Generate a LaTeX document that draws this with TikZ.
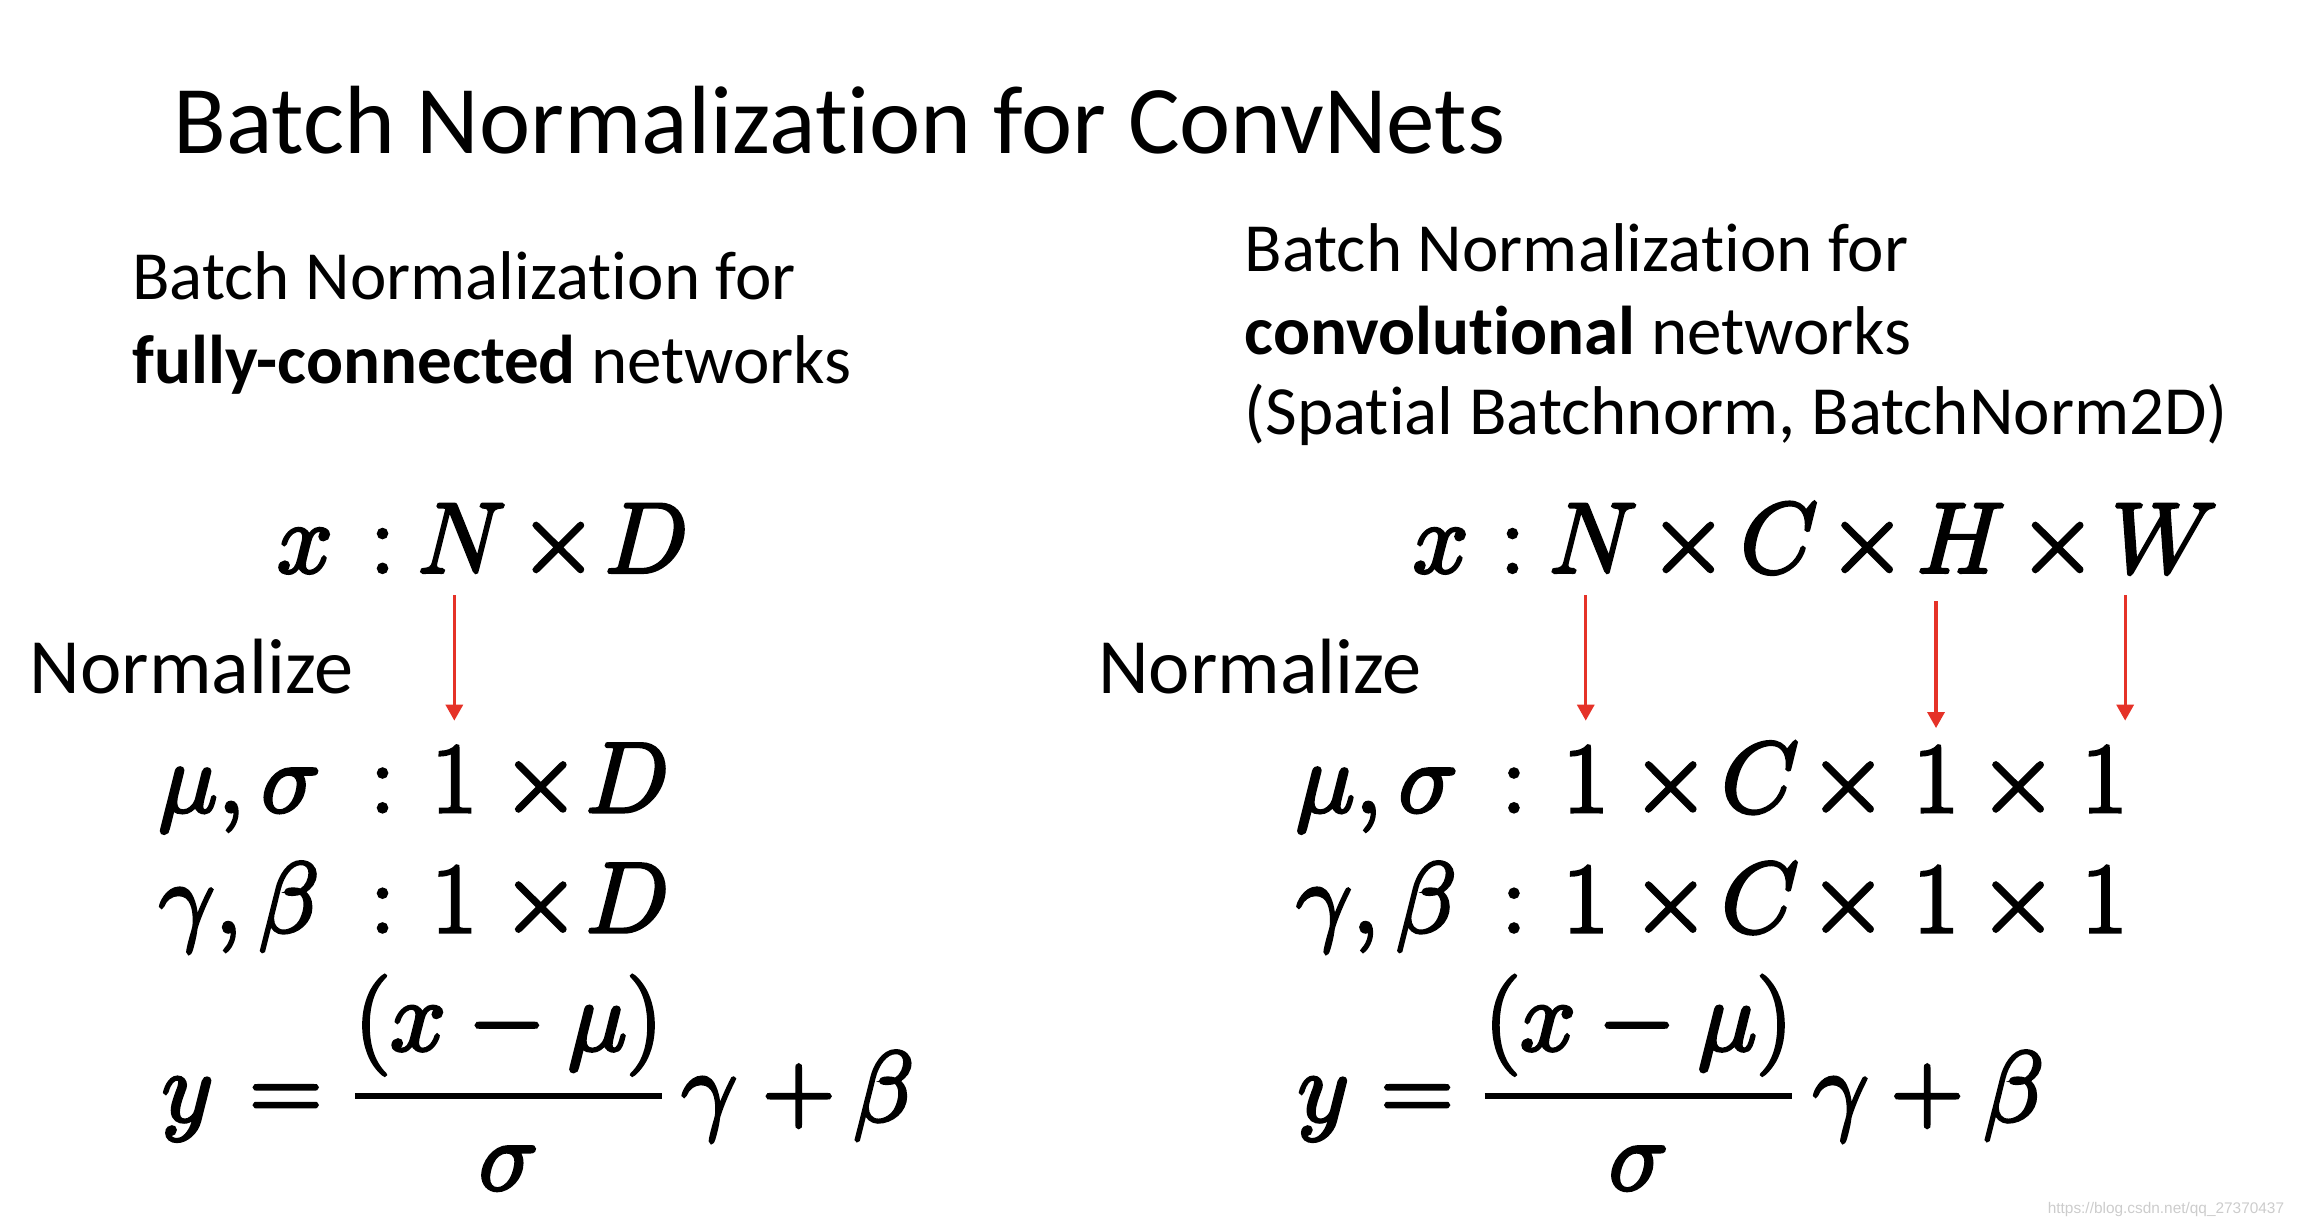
\RequirePackage{fix-cm}
\documentclass[tikz,border=0pt]{standalone}
\usepackage{amsmath}
\usepackage[no-math]{fontspec}
\setmainfont{Carlito}[Ligatures=NoCommon]
\newfontfamily\wmfont{Liberation Sans}
\usetikzlibrary{arrows.meta}
\definecolor{arrred}{RGB}{229,50,40}
\newcommand\mathsz{\fontsize{50}{56}\selectfont}
\newcommand\subsz{\fontsize{34.5}{41.4}\selectfont}
\newcommand\normsz{\fontsize{39.2}{46}\selectfont}
\newcommand\titlesz{\fontsize{48.5}{58}\selectfont}
\newcommand\heavy[1]{\special{pdf:literal direct 2 Tr 1.6 w}#1\special{pdf:literal direct 0 Tr}}
\newcommand\mt[1]{\heavy{$#1$}}
\newcommand\bnfrac{\displaystyle\genfrac{}{}{3pt}{0}{(x-\mu)}{\sigma}}
\begin{document}
\begin{tikzpicture}[x=0.7328pt,y=-0.7328pt,
  tok/.style={anchor=base,inner sep=0pt,font=\mathsz},
  lhs/.style={anchor=base west,inner sep=0pt,font=\mathsz},
  txt/.style={anchor=base west,inner sep=0pt},
  redarr/.style={draw=arrred,line width=1.6pt,-{Triangle[length=8pt,width=8.5pt]}}]
\useasboundingbox (0,0) rectangle (1568,838);
% headings
\node[txt,font=\titlesz] (title) at (118,105) {Batch Normalization for ConvNets};
\node[txt,font=\subsz] (subL1) at (90,204.7) {Batch Normalization for};
\node[txt,font=\subsz] (subL2) at (90,261.5) {\textbf{fully-connected} networks};
\node[txt,font=\subsz] (subR1) at (849,185.4) {Batch Normalization for};
\node[txt,font=\subsz] (subR2) at (849,242.2) {\textbf{convolutional} networks};
\node[txt,font=\subsz] (subR3) at (849,296.8) {(Spatial Batchnorm, BatchNorm2D)};
\node[txt,font=\normsz] (normL) at (20,473.5) {Normalize};
\node[txt,font=\normsz] (normR) at (749,473.5) {Normalize};
% ---------------- left block
\node[tok] (xL) at (208,390.6) {\mt{x}};
\node[tok] (cL1) at (261,390.6) {\mt{:}};
\node[tok] (nL) at (315,390.6) {\mt{N}};
\node[tok] (tL1) at (381,390.6) {\mt{\times}};
\node[tok] (dL1) at (441,390.6) {\mt{D}};
\node[lhs] (msL) at (108,554) {\mt{\mu,\sigma}};
\node[tok] (cL2) at (261,554) {\mt{:}};
\node[tok] (oneL) at (310,554) {\mt{1}};
\node[tok] (tL2) at (369,554) {\mt{\times}};
\node[tok] (dL2) at (428,554) {\mt{D}};
\node[lhs] (gbL) at (108,636) {\mt{\gamma,\beta}};
\node[tok] (cL3) at (261,636) {\mt{:}};
\node[tok] (oneL2) at (310,636) {\mt{1}};
\node[tok] (tL3) at (369,636) {\mt{\times}};
\node[tok] (dL3) at (428,636) {\mt{D}};
\node[tok] (yL) at (128,765) {\mt{y}};
\node[tok] (eqL) at (195,765) {\mt{=}};
\node[tok] (frL) at (347,765) {\mt{\bnfrac}};
\node[tok] (gL) at (484,765) {\mt{\gamma}};
\node[tok] (pL) at (545,765) {\mt{+}};
\node[tok] (bL) at (603,765) {\mt{\beta}};
% ---------------- right block
\node[tok] (xR) at (983,390.6) {\mt{x}};
\node[tok] (cR1) at (1032,390.6) {\mt{:}};
\node[tok] (nR) at (1087,390.6) {\mt{N}};
\node[tok] (tR1) at (1152,390.6) {\mt{\times}};
\node[tok] (cR) at (1214,390.6) {\mt{C}};
\node[tok] (tR2) at (1274,390.6) {\mt{\times}};
\node[tok] (hR) at (1338,390.6) {\mt{H}};
\node[tok] (tR3) at (1404,390.6) {\mt{\times}};
\node[tok] (wR) at (1477,390.6) {\mt{W}};
\node[lhs] (msR) at (884,554) {\mt{\mu,\sigma}};
\node[tok] (cR2) at (1033,554) {\mt{:}};
\node[tok] (oneA) at (1082,554) {\mt{1}};
\node[tok] (tR4) at (1140,554) {\mt{\times}};
\node[tok] (cR3) at (1201,554) {\mt{C}};
\node[tok] (tR5) at (1261,554) {\mt{\times}};
\node[tok] (oneB) at (1321,554) {\mt{1}};
\node[tok] (tR6) at (1377,554) {\mt{\times}};
\node[tok] (oneC) at (1436,554) {\mt{1}};
\node[lhs] (gbR) at (884,636) {\mt{\gamma,\beta}};
\node[tok] (cR4) at (1033,636) {\mt{:}};
\node[tok] (oneA2) at (1082,636) {\mt{1}};
\node[tok] (tR7) at (1140,636) {\mt{\times}};
\node[tok] (cR5) at (1201,636) {\mt{C}};
\node[tok] (tR8) at (1261,636) {\mt{\times}};
\node[tok] (oneB2) at (1321,636) {\mt{1}};
\node[tok] (tR9) at (1377,636) {\mt{\times}};
\node[tok] (oneC2) at (1436,636) {\mt{1}};
\node[tok] (yR) at (903,765) {\mt{y}};
\node[tok] (eqR) at (967,765) {\mt{=}};
\node[tok] (frR) at (1118,765) {\mt{\bnfrac}};
\node[tok] (gR) at (1256,765) {\mt{\gamma}};
\node[tok] (pR) at (1315,765) {\mt{+}};
\node[tok] (bR) at (1374,765) {\mt{\beta}};
% arrows
\draw[redarr,shorten <=11.3pt,shorten >=13.2pt] (oneL.north |- nL.south) -- (oneL.north);
\draw[redarr,shorten <=11.3pt,shorten >=13.2pt] (oneA.north |- nR.south) -- (oneA.north);
\draw[redarr,shorten <=14.2pt,shorten >=9.5pt] (oneB.north |- hR.south) -- (oneB.north);
\draw[redarr,shorten <=11.3pt,shorten >=13.2pt] ([xshift=10.3pt]oneC.north |- wR.south) -- ([xshift=10.3pt]oneC.north);
% watermark
\node[anchor=west,inner sep=0pt,font=\wmfont\fontsize{7.7}{9}\selectfont,text=black!20] (wm) at (1397,825) {https://blog.csdn.net/qq\_27370437};
\end{tikzpicture}
\end{document}
